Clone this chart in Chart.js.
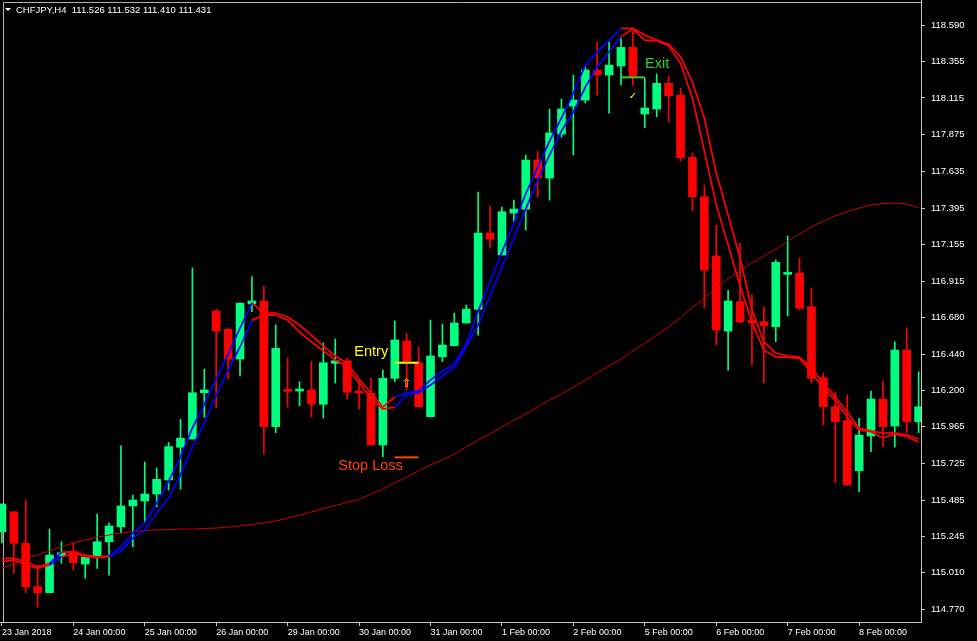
<!DOCTYPE html>
<html lang="en">
  <head>
    <meta charset="UTF-8" />
    <title>CHFJPY,H4</title>
    <script src="https://cdn.jsdelivr.net/npm/chart.js@4.4.1/dist/chart.umd.min.js"></script>
    <style>
      html,
      body {
        margin: 0;
        padding: 0;
        background-color: #000;
      }

      .chart-container {
        position: relative;
        width: 977px;
        height: 641px;
      }
    </style>
  </head>
  <body>
    <div class="chart-container">
      <canvas id="priceChart" width="977" height="641"></canvas>
    </div>

    <script>
      // time axis: one label per trading day (6 H4 bars per day)
      const dayBars = [0, 6, 12, 18, 24, 30, 36, 42, 48, 54, 60, 66, 72];
      const dayLabels = ["23 Jan 2018", "24 Jan 00:00", "25 Jan 00:00", "26 Jan 00:00", "29 Jan 00:00", "30 Jan 00:00", "31 Jan 00:00", "1 Feb 00:00", "2 Feb 00:00", "5 Feb 00:00", "6 Feb 00:00", "7 Feb 00:00", "8 Feb 00:00"];

      const priceTicks = [114.770, 115.010, 115.245, 115.485, 115.725, 115.965, 116.200, 116.440, 116.680, 116.915, 117.155, 117.395, 117.635, 117.875, 118.115, 118.355, 118.590];

      // candles, one value per H4 bar
      const openPrices = [115.278, 115.408, 115.202, 114.918, 114.879, 115.119, 115.147, 115.066, 115.114, 115.212,
        115.310, 115.446, 115.479, 115.524, 115.616, 115.830, 115.884, 116.187, 116.721, 116.602,
        116.407, 116.767, 116.787, 115.965, 116.205, 116.198, 116.205, 116.111, 116.379, 116.396,
        116.191, 116.183, 115.845, 116.281, 116.525, 116.383, 116.030, 116.422, 116.494, 116.643,
        116.732, 117.231, 117.088, 117.362, 117.387, 117.709, 117.591, 117.879, 118.062, 118.101,
        118.298, 118.265, 118.324, 118.446, 118.010, 118.043, 118.211, 118.134, 117.727, 117.469,
        117.081, 116.590, 116.782, 116.662, 116.651, 116.619, 116.961, 116.970, 116.749, 116.285,
        116.095, 116.004, 115.677, 115.904, 116.146, 115.969, 116.466, 115.997];
      const highPrices = [115.459, 115.408, 115.485, 115.049, 115.295, 115.212, 115.204, 115.112, 115.393, 115.335,
        115.840, 115.518, 115.734, 115.694, 115.862, 116.013, 117.003, 116.340, 116.732, 116.604,
        116.776, 116.946, 116.885, 116.630, 116.414, 116.259, 116.394, 116.512, 116.538, 116.414,
        116.270, 116.281, 116.335, 116.656, 116.575, 116.486, 116.662, 116.636, 116.708, 116.761,
        117.500, 117.408, 117.402, 117.447, 117.742, 117.768, 118.043, 118.108, 118.265, 118.317,
        118.481, 118.481, 118.509, 118.548, 118.245, 118.272, 118.258, 118.178, 117.755, 117.545,
        117.284, 116.859, 117.166, 116.826, 116.749, 117.055, 117.212, 117.068, 116.872, 116.316,
        116.193, 116.172, 116.019, 116.198, 116.263, 116.520, 116.610, 116.324];
      const lowPrices = [115.204, 115.006, 114.879, 114.783, 114.879, 115.071, 115.027, 114.973, 115.038, 114.994,
        115.269, 115.178, 115.343, 115.439, 115.550, 115.557, 115.884, 116.026, 116.091, 116.277,
        116.296, 116.717, 115.786, 115.925, 116.093, 116.102, 116.028, 116.021, 116.250, 116.146,
        116.080, 115.845, 115.768, 116.259, 116.205, 116.095, 116.028, 116.390, 116.494, 116.643,
        116.564, 117.133, 117.088, 117.303, 117.251, 117.467, 117.447, 117.859, 117.742, 118.082,
        118.134, 118.016, 118.200, 118.200, 117.920, 117.992, 117.956, 117.702, 117.375, 116.741,
        116.499, 116.335, 116.643, 116.368, 116.252, 116.520, 116.689, 116.728, 116.250, 115.976,
        115.596, 115.583, 115.539, 115.801, 115.832, 115.832, 115.923, 115.925];
      const closePrices = [115.459, 115.202, 114.918, 114.879, 115.125, 115.140, 115.075, 115.110, 115.212, 115.315,
        115.446, 115.485, 115.524, 115.620, 115.834, 115.889, 116.187, 116.205, 116.590, 116.407,
        116.772, 116.787, 115.965, 116.477, 116.196, 116.211, 116.113, 116.383, 116.396, 116.190,
        116.185, 115.845, 116.281, 116.532, 116.386, 116.095, 116.427, 116.499, 116.643, 116.734,
        117.231, 117.192, 117.371, 117.388, 117.709, 117.593, 117.886, 118.043, 118.101, 118.298,
        118.265, 118.330, 118.446, 118.254, 118.049, 118.211, 118.130, 117.724, 117.469, 116.989,
        116.597, 116.787, 116.651, 116.643, 116.625, 117.040, 116.963, 116.741, 116.281, 116.095,
        115.997, 115.583, 115.910, 116.146, 115.965, 116.466, 115.997, 116.095];

      // the two trend moving averages (blue while rising, red while falling)
      const maA = [115.104, 115.104, 115.081, 115.049, 115.071, 115.143, 115.147, 115.125, 115.114, 115.119,
        115.178, 115.269, 115.335, 115.465, 115.609, 115.766, 115.956, 116.113, 116.277, 116.440,
        116.610, 116.774, 116.708, 116.708, 116.682, 116.630, 116.564, 116.492, 116.427, 116.381,
        116.277, 116.185, 116.093, 116.159, 116.185, 116.198, 116.270, 116.329, 116.375, 116.505,
        116.721, 116.911, 117.107, 117.297, 117.487, 117.663, 117.833, 117.984, 118.147, 118.330,
        118.415, 118.494, 118.570, 118.570, 118.527, 118.494, 118.466, 118.385, 118.219, 117.984,
        117.624, 117.349, 117.068, 116.728, 116.519, 116.447, 116.427, 116.420, 116.348, 116.250,
        116.159, 116.061, 115.956, 115.938, 115.923, 115.925, 115.910, 115.884];
      const maB = [115.081, 115.093, 115.060, 115.038, 115.060, 115.114, 115.136, 115.114, 115.108, 115.115,
        115.151, 115.236, 115.289, 115.400, 115.498, 115.649, 115.832, 115.989, 116.172, 116.335,
        116.486, 116.662, 116.695, 116.695, 116.662, 116.584, 116.519, 116.460, 116.401, 116.355,
        116.250, 116.152, 116.080, 116.093, 116.172, 116.187, 116.237, 116.296, 116.355, 116.486,
        116.630, 116.819, 117.009, 117.199, 117.388, 117.578, 117.742, 117.899, 118.023, 118.186,
        118.319, 118.417, 118.515, 118.566, 118.494, 118.489, 118.457, 118.342, 118.115, 117.768,
        117.415, 117.153, 116.885, 116.649, 116.466, 116.420, 116.420, 116.412, 116.316, 116.218,
        116.139, 116.028, 115.943, 115.932, 115.891, 115.917, 115.899, 115.866];
      // 1 = up (blue), -1 = down (red)
      const maTrend = [-1, -1, -1, -1, 1, 1, -1, -1, -1, 1,
        1, 1, 1, 1, 1, 1, 1, 1, 1, 1,
        1, 1, -1, -1, -1, -1, -1, -1, -1, -1,
        -1, -1, -1, 1, 1, 1, 1, 1, 1, 1,
        1, 1, 1, 1, 1, 1, 1, 1, 1, 1,
        1, 1, 1, -1, -1, -1, -1, -1, -1, -1,
        -1, -1, -1, -1, -1, -1, -1, -1, -1, -1,
        -1, -1, -1, -1, -1, -1, -1, -1];

      // slow moving average
      const maLong = [115.040, 115.066, 115.099, 115.125, 115.151, 115.178, 115.204, 115.223, 115.243, 115.256,
        115.269, 115.279, 115.286, 115.289, 115.292, 115.295, 115.295, 115.299, 115.302, 115.308,
        115.315, 115.325, 115.335, 115.348, 115.367, 115.387, 115.407, 115.429, 115.449, 115.469,
        115.488, 115.524, 115.557, 115.596, 115.635, 115.675, 115.714, 115.747, 115.786, 115.832,
        115.878, 115.917, 115.963, 116.008, 116.048, 116.093, 116.139, 116.178, 116.224, 116.270,
        116.316, 116.362, 116.407, 116.460, 116.512, 116.564, 116.617, 116.676, 116.747, 116.800,
        116.878, 116.931, 116.983, 117.035, 117.081, 117.127, 117.179, 117.225, 117.271, 117.310,
        117.343, 117.372, 117.395, 117.415, 117.424, 117.428, 117.421, 117.398];

      // trade markers
      const entryBars = [33, 35];
      const entryPrice = 116.383;
      const stopPrice = 115.764;
      const exitBars = [52, 54];
      const exitPrice = 118.250;
      const notes = [
        { text: "Entry", bar: 29.6, price: 116.424, color: "#ffff00" },
        { text: "Stop Loss", bar: 28.26, price: 115.681, color: "#ff4500" },
        { text: "Exit", bar: 54.02, price: 118.309, color: "#32cd32" },
      ];
      const signals = [
        { text: "\u21E7", bar: 34, price: 116.244, color: "#ffd200", size: 12 },
        { text: "\u2713", bar: 53, price: 118.127, color: "#ffff00", size: 10 },
      ];

      const UP = "#00ff7f";
      const DOWN = "#ff0000";

      const bars = openPrices.map((_, i) => i);
      const candleColors = bars.map((i) => (closePrices[i] >= openPrices[i] ? UP : DOWN));

      const chartFrame = {
        id: "chartFrame",
        beforeDatasetsDraw(chart) {
          const { ctx, chartArea } = chart;
          ctx.save();
          ctx.strokeStyle = "#b4b4b4";
          ctx.lineWidth = 1;
          ctx.beginPath();
          ctx.moveTo(3.5, chartArea.bottom);
          ctx.lineTo(3.5, 2.5);
          ctx.lineTo(chartArea.right, 2.5);
          ctx.stroke();
          ctx.restore();
        },
        afterDraw(chart) {
          const { ctx } = chart;
          const xs = chart.scales.x;
          const ys = chart.scales.y;
          ctx.save();

          // symbol header
          ctx.fillStyle = "#ffffff";
          ctx.beginPath();
          ctx.moveTo(5, 8);
          ctx.lineTo(11, 8);
          ctx.lineTo(8, 11);
          ctx.closePath();
          ctx.fill();
          ctx.font = "9.5px 'Liberation Sans'";
          ctx.textBaseline = "alphabetic";
          ctx.fillText("CHFJPY,H4  111.526 111.532 111.410 111.431", 16, 13);

          ctx.font = "14.5px 'Liberation Sans'";
          ctx.textAlign = "left";
          notes.forEach((n) => {
            ctx.fillStyle = n.color;
            ctx.fillText(n.text, xs.getPixelForValue(n.bar), ys.getPixelForValue(n.price));
          });

          ctx.textAlign = "center";
          ctx.textBaseline = "middle";
          signals.forEach((s) => {
            ctx.font = s.size + "px 'DejaVu Sans'";
            ctx.fillStyle = s.color;
            ctx.fillText(s.text, xs.getPixelForValue(s.bar), ys.getPixelForValue(s.price));
          });
          ctx.restore();
        },
      };

      const segmentColor = (c) =>
        maTrend[c.p0DataIndex] === 1 && maTrend[c.p1DataIndex] === 1 ? "#0000ff" : "#ff0000";

      const levelLine = (barsRange, price, color) => ({
        type: "line",
        data: barsRange.map((b) => ({ x: b, y: price })),
        borderColor: color,
        borderWidth: 2,
        pointRadius: 0,
        order: 0,
      });

      const ctx = document.getElementById("priceChart").getContext("2d");

      new Chart(ctx, {
        type: "bar",
        data: {
          datasets: [
            levelLine(entryBars, entryPrice, "#ffff00"),
            levelLine(entryBars, stopPrice, "#ff4500"),
            levelLine(exitBars, exitPrice, "#32cd32"),
            {
              type: "line",
              data: bars.map((i) => ({ x: i, y: maA[i] })),
              borderWidth: 1.7,
              borderColor: "#ff0000",
              segment: { borderColor: segmentColor },
              pointRadius: 0,
              tension: 0,
              order: 1,
            },
            {
              type: "line",
              data: bars.map((i) => ({ x: i, y: maB[i] })),
              borderWidth: 1.7,
              borderColor: "#ff0000",
              segment: { borderColor: segmentColor },
              pointRadius: 0,
              tension: 0,
              order: 2,
            },
            {
              type: "line",
              data: bars.map((i) => ({ x: i, y: maLong[i] })),
              borderWidth: 1,
              borderColor: "#c80000",
              pointRadius: 0,
              tension: 0,
              order: 3,
            },
            {
              // candle bodies
              data: bars.map((i) => ({ x: i, y: [openPrices[i], closePrices[i]] })),
              backgroundColor: candleColors,
              barThickness: 8,
              minBarLength: 2,
              grouped: false,
              order: 4,
            },
            {
              // wicks
              data: bars.map((i) => ({ x: i, y: [lowPrices[i], highPrices[i]] })),
              backgroundColor: candleColors,
              barThickness: 1,
              grouped: false,
              order: 5,
            },
          ],
        },
        options: {
          responsive: false,
          animation: false,
          devicePixelRatio: 1,
          layout: { padding: 0 },
          plugins: {
            legend: { display: false },
            tooltip: { enabled: false },
          },
          scales: {
            x: {
              type: "linear",
              offset: false,
              min: -0.16,
              max: 77.2,
              afterBuildTicks: (s) => {
                s.ticks = dayBars.map((v) => ({ value: v }));
              },
              afterFit: (s) => {
                s.height = 19;
                s.paddingLeft = 0;
                s.paddingRight = 0;
              },
              ticks: {
                color: "#ffffff",
                font: { family: "Liberation Sans", size: 9 },
                align: "start",
                padding: 1,
                autoSkip: false,
                maxRotation: 0,
                callback: (v, i) => dayLabels[i],
              },
              grid: { offset: false, drawOnChartArea: false, tickLength: 4, color: "#c8c8c8" },
              border: { color: "#c8c8c8" },
            },
            y: {
              position: "right",
              min: 114.687,
              max: 118.756,
              afterBuildTicks: (s) => {
                s.ticks = priceTicks.map((v) => ({ value: v }));
              },
              afterFit: (s) => {
                s.width = 56;
                s.paddingTop = 0;
                s.paddingBottom = 0;
              },
              ticks: {
                color: "#ffffff",
                font: { family: "Liberation Sans", size: 9.5 },
                padding: 6,
                callback: (v) => Number(v).toFixed(3),
              },
              grid: { drawOnChartArea: false, tickLength: 4, color: "#c8c8c8" },
              border: { color: "#c8c8c8" },
            },
          },
        },
        plugins: [chartFrame],
      });
    </script>
  </body>
</html>
